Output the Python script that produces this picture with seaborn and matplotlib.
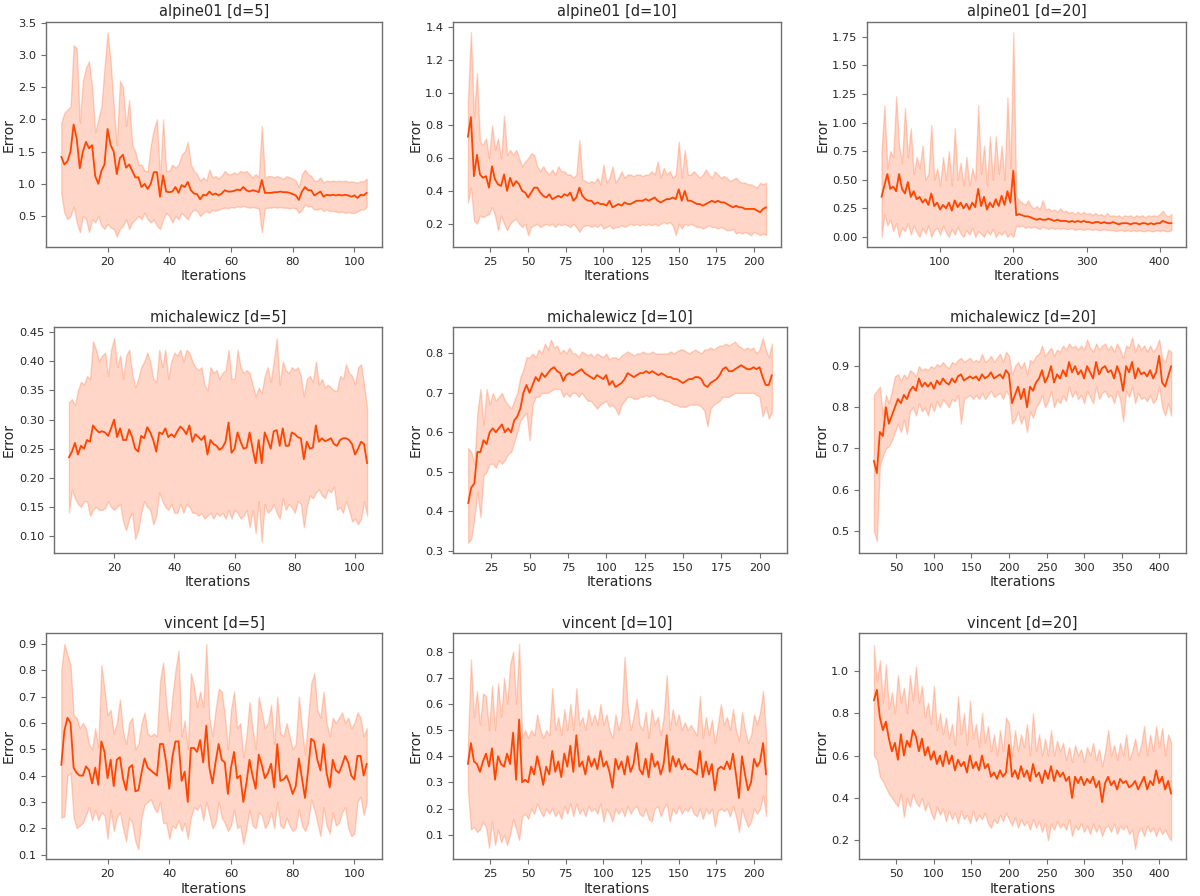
import numpy as np
import pandas as pd
import matplotlib
matplotlib.use("Agg")
import matplotlib.pyplot as plt
from matplotlib.ticker import MultipleLocator
import seaborn as sns

# ---------------- data ----------------
it5 = list(range(5, 105))        # d=5  : iterations 5..104
it10 = list(range(10, 209, 2))   # d=10 : iterations 10..208 (every 2nd)
it20 = list(range(20, 417, 4))   # d=20 : iterations 20..416 (every 4th)

alp5_mean = [1.42,1.30,1.35,1.50,1.92,1.70,1.24,1.50,1.65,1.55,
             1.60,1.12,1.00,1.20,1.30,1.85,1.60,1.50,1.15,1.40,
             1.45,1.25,1.30,1.20,1.10,1.10,0.95,1.00,0.92,1.00,
             1.18,1.18,0.80,1.13,0.88,0.87,0.88,0.95,0.86,0.98,
             0.95,1.03,0.90,0.85,0.84,0.76,0.83,0.82,0.88,0.83,
             0.85,0.82,0.85,0.90,0.88,0.88,0.89,0.91,0.90,0.95,
             0.90,0.88,0.90,0.89,0.87,1.06,0.86,0.86,0.86,0.87,
             0.87,0.88,0.87,0.87,0.86,0.84,0.82,0.75,0.88,0.95,
             0.90,0.90,0.82,0.85,0.88,0.80,0.83,0.82,0.83,0.82,
             0.83,0.82,0.83,0.82,0.80,0.82,0.78,0.83,0.82,0.86]
alp5_hi = [1.95,2.10,2.15,2.20,3.15,3.10,1.95,2.60,2.80,2.90,
           2.50,1.80,2.00,2.20,2.80,3.35,2.90,2.20,1.60,2.60,
           2.50,1.90,2.30,1.60,1.50,1.30,1.30,1.20,1.20,1.60,
           1.85,2.00,1.10,2.00,1.20,1.20,1.30,1.25,1.30,1.45,
           1.50,1.65,1.30,1.20,1.15,1.05,1.10,1.05,1.22,1.10,
           1.12,1.08,1.13,1.20,1.15,1.15,1.18,1.15,1.20,1.18,
           1.20,1.15,1.10,1.15,1.10,1.90,1.10,1.12,1.12,1.10,
           1.12,1.10,1.08,1.12,1.10,1.08,1.05,0.95,1.15,1.22,
           1.15,1.12,1.05,1.05,1.10,1.02,1.05,1.04,1.05,1.04,
           1.05,1.04,1.05,1.03,1.04,1.03,1.02,1.04,1.04,1.08]
alp5_lo = [0.85,0.55,0.45,0.50,0.65,0.40,0.25,0.50,0.45,0.25,
           0.45,0.40,0.50,0.35,0.30,0.38,0.32,0.30,0.18,0.30,
           0.35,0.45,0.30,0.40,0.45,0.50,0.45,0.55,0.45,0.40,
           0.45,0.35,0.30,0.45,0.55,0.50,0.40,0.50,0.45,0.55,
           0.50,0.45,0.55,0.60,0.58,0.50,0.55,0.58,0.55,0.60,
           0.58,0.60,0.62,0.63,0.62,0.64,0.63,0.65,0.64,0.66,
           0.64,0.63,0.64,0.63,0.62,0.25,0.62,0.63,0.63,0.64,
           0.63,0.64,0.63,0.63,0.62,0.63,0.62,0.55,0.60,0.68,
           0.65,0.65,0.60,0.60,0.62,0.58,0.60,0.58,0.58,0.57,
           0.56,0.57,0.55,0.56,0.55,0.55,0.57,0.60,0.60,0.65]

alp10_mean = [0.73,0.85,0.49,0.62,0.50,0.48,0.49,0.42,0.55,0.47,
              0.44,0.43,0.50,0.40,0.48,0.43,0.46,0.44,0.40,0.39,
              0.36,0.39,0.42,0.42,0.39,0.37,0.36,0.38,0.35,0.36,
              0.37,0.36,0.38,0.37,0.39,0.34,0.36,0.42,0.37,0.35,
              0.34,0.34,0.32,0.33,0.32,0.32,0.31,0.34,0.30,0.31,
              0.32,0.31,0.33,0.32,0.32,0.33,0.34,0.34,0.34,0.35,
              0.34,0.35,0.36,0.34,0.33,0.34,0.35,0.35,0.36,0.35,
              0.41,0.34,0.40,0.34,0.34,0.33,0.32,0.32,0.31,0.32,
              0.33,0.34,0.33,0.34,0.33,0.33,0.32,0.31,0.30,0.31,
              0.30,0.30,0.29,0.29,0.29,0.29,0.28,0.27,0.29,0.30]
alp10_hi = [0.95,1.37,0.85,1.12,0.70,0.68,0.72,0.60,0.80,0.65,
            0.72,0.60,0.86,0.62,0.65,0.62,0.65,0.60,0.55,0.58,
            0.60,0.63,0.62,0.55,0.52,0.55,0.52,0.50,0.53,0.50,
            0.55,0.52,0.52,0.50,0.50,0.48,0.50,0.71,0.47,0.46,
            0.45,0.46,0.45,0.48,0.44,0.56,0.45,0.48,0.55,0.45,
            0.48,0.52,0.48,0.50,0.50,0.49,0.50,0.50,0.49,0.50,
            0.50,0.52,0.50,0.58,0.48,0.54,0.50,0.52,0.48,0.50,
            0.70,0.48,0.65,0.50,0.50,0.52,0.50,0.48,0.50,0.53,
            0.50,0.48,0.52,0.50,0.48,0.49,0.48,0.46,0.47,0.48,
            0.46,0.45,0.45,0.44,0.44,0.43,0.42,0.45,0.44,0.45]
alp10_lo = [0.33,0.42,0.22,0.20,0.25,0.24,0.25,0.26,0.30,0.25,
            0.16,0.25,0.20,0.16,0.20,0.22,0.23,0.20,0.18,0.20,
            0.13,0.18,0.19,0.20,0.18,0.19,0.20,0.19,0.20,0.18,
            0.20,0.19,0.20,0.19,0.18,0.20,0.18,0.15,0.18,0.19,
            0.19,0.18,0.19,0.18,0.20,0.17,0.18,0.19,0.17,0.18,
            0.18,0.19,0.18,0.19,0.20,0.19,0.20,0.19,0.20,0.19,
            0.20,0.19,0.20,0.19,0.20,0.21,0.20,0.21,0.19,0.13,
            0.20,0.17,0.20,0.19,0.20,0.19,0.18,0.18,0.17,0.18,
            0.19,0.18,0.18,0.17,0.18,0.17,0.16,0.16,0.17,0.14,
            0.15,0.14,0.15,0.14,0.13,0.15,0.14,0.13,0.14,0.13]

alp20_mean = [0.35,0.45,0.55,0.42,0.44,0.40,0.55,0.42,0.38,0.48,
              0.35,0.40,0.33,0.35,0.30,0.33,0.28,0.38,0.27,0.30,
              0.24,0.28,0.25,0.30,0.23,0.32,0.26,0.30,0.25,0.29,
              0.24,0.30,0.26,0.42,0.27,0.35,0.24,0.30,0.26,0.33,
              0.27,0.36,0.28,0.40,0.30,0.58,0.19,0.20,0.19,0.18,
              0.18,0.17,0.16,0.15,0.16,0.15,0.15,0.16,0.15,0.14,
              0.15,0.14,0.14,0.14,0.13,0.14,0.13,0.14,0.13,0.14,
              0.13,0.13,0.12,0.13,0.13,0.12,0.13,0.12,0.12,0.13,
              0.12,0.11,0.12,0.12,0.12,0.11,0.12,0.12,0.11,0.12,
              0.12,0.11,0.12,0.11,0.12,0.12,0.14,0.13,0.12,0.12]
alp20_hi = [0.75,1.15,0.60,0.75,0.70,1.23,0.80,0.65,1.13,0.70,
            0.95,0.55,0.70,0.60,0.80,0.50,0.55,0.98,0.50,0.60,
            0.45,0.70,0.50,0.75,0.45,0.95,0.50,0.65,0.45,0.70,
            0.45,0.60,0.50,1.15,0.55,0.80,0.45,0.88,0.50,0.88,
            0.55,0.80,0.50,1.22,0.60,1.79,0.35,0.32,0.30,0.28,
            0.32,0.27,0.25,0.27,0.24,0.32,0.24,0.25,0.23,0.24,
            0.22,0.25,0.22,0.23,0.21,0.22,0.20,0.22,0.20,0.22,
            0.20,0.21,0.19,0.21,0.19,0.20,0.18,0.21,0.18,0.19,
            0.18,0.19,0.17,0.19,0.18,0.19,0.17,0.19,0.18,0.19,
            0.17,0.19,0.18,0.19,0.18,0.20,0.23,0.19,0.18,0.20]
alp20_lo = [0.00,0.20,0.10,0.15,0.05,0.12,0.00,0.08,0.05,0.12,
            0.02,0.10,0.04,0.00,0.08,0.03,0.10,0.00,0.06,0.08,
            0.02,0.10,0.04,0.00,0.07,0.02,0.09,0.03,0.00,0.06,
            0.02,0.08,0.00,0.05,0.03,0.00,0.06,0.02,0.07,0.00,
            0.04,0.02,0.05,0.00,0.03,0.00,0.10,0.09,0.10,0.08,
            0.09,0.08,0.09,0.08,0.07,0.09,0.08,0.07,0.08,0.07,
            0.08,0.07,0.08,0.07,0.07,0.08,0.06,0.07,0.07,0.06,
            0.07,0.07,0.06,0.07,0.06,0.06,0.07,0.06,0.06,0.06,
            0.05,0.06,0.06,0.05,0.06,0.05,0.06,0.05,0.06,0.05,
            0.05,0.06,0.05,0.05,0.06,0.05,0.06,0.05,0.05,0.06]

mic5_mean = [0.235,0.245,0.26,0.24,0.255,0.25,0.265,0.262,0.29,0.283,
             0.278,0.28,0.278,0.272,0.285,0.30,0.27,0.285,0.265,0.265,
             0.283,0.27,0.25,0.245,0.272,0.268,0.287,0.278,0.265,0.245,
             0.278,0.275,0.285,0.27,0.275,0.27,0.28,0.288,0.283,0.275,
             0.29,0.262,0.275,0.27,0.265,0.272,0.24,0.265,0.258,0.255,
             0.248,0.252,0.262,0.295,0.243,0.25,0.278,0.262,0.25,0.252,
             0.278,0.25,0.225,0.265,0.225,0.278,0.265,0.25,0.28,0.282,
             0.255,0.285,0.255,0.255,0.278,0.275,0.27,0.268,0.232,0.262,
             0.25,0.252,0.29,0.262,0.268,0.263,0.265,0.268,0.258,0.255,
             0.265,0.268,0.268,0.265,0.258,0.24,0.25,0.262,0.258,0.225]
mic5_hi = [0.33,0.335,0.325,0.35,0.365,0.36,0.375,0.37,0.435,0.42,
           0.40,0.41,0.415,0.375,0.42,0.44,0.39,0.41,0.37,0.41,
           0.42,0.38,0.355,0.37,0.39,0.40,0.415,0.40,0.37,0.365,
           0.42,0.39,0.42,0.37,0.40,0.415,0.41,0.42,0.40,0.42,
           0.415,0.40,0.39,0.385,0.39,0.36,0.35,0.39,0.38,0.385,
           0.37,0.38,0.385,0.42,0.37,0.37,0.42,0.39,0.38,0.385,
           0.38,0.36,0.34,0.355,0.345,0.375,0.39,0.365,0.40,0.44,
           0.36,0.40,0.385,0.38,0.39,0.385,0.39,0.375,0.34,0.37,
           0.375,0.365,0.40,0.36,0.37,0.355,0.36,0.355,0.35,0.35,
           0.375,0.37,0.395,0.38,0.375,0.36,0.39,0.395,0.36,0.32]
mic5_lo = [0.14,0.18,0.165,0.155,0.15,0.16,0.16,0.135,0.145,0.15,
           0.145,0.145,0.148,0.16,0.15,0.145,0.15,0.155,0.125,0.11,
           0.13,0.14,0.095,0.11,0.14,0.16,0.15,0.145,0.12,0.135,
           0.175,0.16,0.15,0.145,0.155,0.14,0.14,0.155,0.14,0.155,
           0.15,0.14,0.14,0.135,0.14,0.13,0.135,0.14,0.13,0.14,
           0.135,0.14,0.13,0.145,0.13,0.145,0.14,0.13,0.135,0.145,
           0.115,0.145,0.105,0.16,0.09,0.155,0.14,0.145,0.155,0.14,
           0.13,0.165,0.145,0.155,0.15,0.14,0.16,0.155,0.115,0.15,
           0.17,0.165,0.175,0.18,0.17,0.165,0.18,0.175,0.185,0.145,
           0.15,0.14,0.16,0.145,0.125,0.13,0.12,0.13,0.16,0.135]

mic10_mean = [0.42,0.46,0.47,0.55,0.55,0.58,0.57,0.60,0.61,0.60,
              0.61,0.62,0.60,0.61,0.60,0.63,0.64,0.66,0.70,0.72,
              0.70,0.72,0.74,0.73,0.75,0.74,0.75,0.76,0.765,0.755,
              0.75,0.73,0.745,0.75,0.745,0.75,0.755,0.76,0.75,0.745,
              0.74,0.735,0.745,0.74,0.735,0.745,0.72,0.73,0.715,0.72,
              0.725,0.735,0.75,0.745,0.74,0.745,0.75,0.75,0.755,0.75,
              0.755,0.75,0.745,0.75,0.745,0.74,0.74,0.735,0.735,0.73,
              0.725,0.73,0.735,0.735,0.74,0.74,0.735,0.72,0.715,0.725,
              0.73,0.735,0.745,0.76,0.765,0.755,0.755,0.76,0.765,0.77,
              0.765,0.76,0.76,0.765,0.76,0.765,0.74,0.72,0.72,0.745]
mic10_hi = [0.56,0.55,0.52,0.65,0.71,0.62,0.71,0.67,0.70,0.68,
            0.69,0.70,0.68,0.67,0.66,0.68,0.70,0.74,0.76,0.79,
            0.79,0.80,0.79,0.81,0.80,0.825,0.81,0.835,0.815,0.82,
            0.80,0.81,0.80,0.815,0.80,0.80,0.79,0.805,0.80,0.795,
            0.80,0.79,0.80,0.795,0.79,0.80,0.785,0.79,0.79,0.785,
            0.795,0.80,0.805,0.80,0.795,0.80,0.80,0.805,0.80,0.80,
            0.805,0.80,0.80,0.80,0.80,0.80,0.805,0.80,0.805,0.81,
            0.81,0.805,0.80,0.805,0.81,0.805,0.80,0.81,0.81,0.815,
            0.81,0.815,0.82,0.82,0.825,0.82,0.825,0.83,0.82,0.815,
            0.81,0.815,0.81,0.815,0.80,0.81,0.84,0.81,0.79,0.825]
mic10_lo = [0.32,0.33,0.38,0.45,0.385,0.49,0.50,0.52,0.52,0.51,
            0.53,0.52,0.53,0.545,0.55,0.575,0.60,0.63,0.64,0.65,
            0.58,0.67,0.69,0.69,0.70,0.70,0.70,0.705,0.71,0.71,
            0.71,0.69,0.70,0.69,0.70,0.70,0.69,0.70,0.69,0.68,
            0.68,0.67,0.66,0.67,0.675,0.68,0.665,0.67,0.66,0.645,
            0.67,0.68,0.69,0.69,0.685,0.685,0.69,0.69,0.695,0.69,
            0.695,0.69,0.685,0.685,0.68,0.68,0.675,0.67,0.67,0.665,
            0.665,0.665,0.67,0.67,0.67,0.67,0.665,0.655,0.615,0.66,
            0.67,0.675,0.68,0.69,0.69,0.69,0.695,0.70,0.70,0.70,
            0.70,0.70,0.70,0.70,0.695,0.69,0.64,0.665,0.635,0.65]

mic20_mean = [0.67,0.64,0.74,0.73,0.80,0.76,0.78,0.80,0.82,0.81,
              0.83,0.82,0.84,0.85,0.84,0.87,0.85,0.86,0.85,0.86,
              0.845,0.865,0.855,0.87,0.86,0.855,0.87,0.86,0.875,0.88,
              0.865,0.87,0.875,0.87,0.875,0.865,0.88,0.87,0.875,0.885,
              0.87,0.875,0.88,0.87,0.89,0.88,0.81,0.83,0.85,0.82,
              0.845,0.80,0.85,0.84,0.86,0.87,0.89,0.86,0.875,0.90,
              0.86,0.88,0.87,0.89,0.875,0.91,0.885,0.90,0.88,0.89,
              0.87,0.90,0.885,0.87,0.91,0.88,0.895,0.90,0.885,0.89,
              0.87,0.90,0.88,0.84,0.90,0.885,0.91,0.87,0.895,0.88,
              0.885,0.875,0.89,0.87,0.885,0.925,0.86,0.85,0.875,0.90]
mic20_hi = [0.83,0.84,0.85,0.78,0.83,0.81,0.84,0.875,0.88,0.865,
            0.88,0.87,0.89,0.885,0.875,0.90,0.89,0.895,0.89,0.90,
            0.895,0.905,0.90,0.91,0.90,0.895,0.91,0.905,0.915,0.92,
            0.91,0.915,0.92,0.91,0.915,0.91,0.93,0.91,0.915,0.925,
            0.91,0.92,0.93,0.91,0.935,0.925,0.88,0.90,0.91,0.895,
            0.91,0.88,0.915,0.91,0.925,0.93,0.95,0.925,0.935,0.945,
            0.925,0.94,0.935,0.95,0.94,0.955,0.945,0.95,0.94,0.95,
            0.94,0.965,0.945,0.935,0.955,0.94,0.95,0.955,0.94,0.95,
            0.935,0.955,0.94,0.92,0.95,0.945,0.97,0.935,0.955,0.94,
            0.95,0.935,0.95,0.935,0.945,0.965,0.92,0.91,0.94,0.935]
mic20_lo = [0.50,0.475,0.66,0.68,0.70,0.705,0.72,0.74,0.76,0.74,
            0.77,0.735,0.79,0.80,0.78,0.81,0.79,0.80,0.78,0.81,
            0.79,0.815,0.80,0.82,0.81,0.80,0.82,0.815,0.83,0.76,
            0.82,0.825,0.83,0.82,0.83,0.82,0.835,0.82,0.83,0.84,
            0.825,0.83,0.835,0.82,0.84,0.83,0.76,0.77,0.79,0.76,
            0.78,0.74,0.79,0.775,0.80,0.81,0.83,0.80,0.815,0.84,
            0.80,0.82,0.81,0.83,0.815,0.85,0.825,0.84,0.82,0.83,
            0.81,0.84,0.825,0.81,0.85,0.82,0.835,0.84,0.825,0.83,
            0.81,0.84,0.82,0.765,0.84,0.825,0.85,0.81,0.835,0.82,
            0.825,0.815,0.83,0.81,0.82,0.85,0.80,0.78,0.81,0.78]

vin5_mean = [0.44,0.57,0.62,0.60,0.43,0.41,0.40,0.40,0.435,0.42,
             0.37,0.43,0.365,0.53,0.49,0.39,0.46,0.36,0.46,0.47,
             0.39,0.345,0.43,0.44,0.34,0.345,0.41,0.465,0.43,0.42,
             0.41,0.40,0.52,0.52,0.45,0.35,0.47,0.53,0.53,0.38,
             0.415,0.30,0.505,0.505,0.49,0.535,0.45,0.59,0.43,0.37,
             0.45,0.52,0.46,0.45,0.33,0.43,0.49,0.39,0.40,0.30,
             0.37,0.46,0.40,0.35,0.48,0.44,0.39,0.41,0.445,0.355,
             0.52,0.38,0.385,0.40,0.37,0.33,0.36,0.465,0.39,0.315,
             0.42,0.54,0.53,0.46,0.42,0.52,0.41,0.355,0.46,0.42,
             0.41,0.44,0.475,0.45,0.40,0.385,0.475,0.475,0.40,0.445]
vin5_hi = [0.80,0.90,0.86,0.82,0.63,0.62,0.58,0.60,0.58,0.52,
           0.50,0.58,0.51,0.82,0.73,0.63,0.65,0.56,0.60,0.69,
           0.57,0.52,0.60,0.62,0.50,0.52,0.60,0.64,0.56,0.55,
           0.56,0.55,0.76,0.83,0.68,0.57,0.70,0.80,0.875,0.55,
           0.61,0.50,0.79,0.74,0.66,0.72,0.66,0.90,0.62,0.55,
           0.65,0.73,0.72,0.63,0.50,0.65,0.72,0.58,0.60,0.47,
           0.55,0.68,0.58,0.50,0.70,0.64,0.58,0.60,0.67,0.52,
           0.70,0.56,0.55,0.60,0.55,0.50,0.52,0.70,0.58,0.48,
           0.62,0.75,0.79,0.65,0.62,0.72,0.60,0.55,0.62,0.60,
           0.62,0.64,0.60,0.62,0.58,0.60,0.64,0.62,0.55,0.58]
vin5_lo = [0.24,0.245,0.40,0.41,0.24,0.20,0.21,0.22,0.25,0.28,
           0.23,0.27,0.23,0.26,0.25,0.16,0.27,0.19,0.24,0.26,
           0.20,0.15,0.24,0.22,0.15,0.12,0.24,0.29,0.30,0.31,
           0.28,0.26,0.30,0.22,0.22,0.16,0.21,0.20,0.23,0.19,
           0.22,0.16,0.24,0.28,0.27,0.29,0.23,0.30,0.25,0.20,
           0.22,0.30,0.24,0.22,0.19,0.21,0.27,0.20,0.21,0.14,
           0.20,0.27,0.21,0.20,0.26,0.25,0.20,0.22,0.26,0.20,
           0.30,0.21,0.20,0.24,0.21,0.19,0.20,0.27,0.21,0.19,
           0.22,0.31,0.27,0.22,0.17,0.28,0.21,0.18,0.26,0.21,
           0.22,0.26,0.28,0.20,0.17,0.18,0.30,0.32,0.25,0.30]

vin10_mean = [0.37,0.45,0.38,0.37,0.34,0.38,0.41,0.36,0.43,0.31,
              0.40,0.37,0.36,0.41,0.37,0.49,0.31,0.54,0.30,0.31,
              0.30,0.36,0.33,0.40,0.35,0.29,0.36,0.33,0.42,0.34,
              0.38,0.32,0.41,0.36,0.44,0.34,0.48,0.36,0.38,0.33,
              0.40,0.36,0.39,0.35,0.42,0.36,0.38,0.34,0.28,0.39,
              0.35,0.38,0.33,0.40,0.34,0.37,0.45,0.35,0.33,0.39,
              0.32,0.41,0.36,0.38,0.33,0.37,0.48,0.34,0.40,0.36,
              0.39,0.35,0.37,0.35,0.35,0.34,0.33,0.42,0.32,0.38,
              0.33,0.37,0.27,0.35,0.36,0.35,0.38,0.35,0.41,0.33,
              0.24,0.40,0.33,0.27,0.30,0.39,0.36,0.38,0.45,0.33]
vin10_hi = [0.45,0.77,0.55,0.65,0.52,0.64,0.63,0.50,0.67,0.50,
            0.68,0.55,0.70,0.60,0.75,0.80,0.60,0.83,0.47,0.50,
            0.47,0.50,0.48,0.56,0.50,0.47,0.50,0.48,0.66,0.50,
            0.55,0.48,0.58,0.50,0.60,0.50,0.66,0.52,0.55,0.50,
            0.58,0.52,0.56,0.52,0.60,0.52,0.56,0.50,0.47,0.56,
            0.50,0.55,0.78,0.60,0.50,0.55,0.62,0.52,0.50,0.57,
            0.47,0.58,0.52,0.55,0.48,0.55,0.71,0.50,0.58,0.52,
            0.56,0.50,0.53,0.50,0.52,0.50,0.48,0.63,0.47,0.55,
            0.48,0.54,0.45,0.52,0.60,0.52,0.55,0.50,0.58,0.50,
            0.46,0.57,0.50,0.45,0.48,0.56,0.52,0.57,0.65,0.48]
vin10_lo = [0.27,0.12,0.13,0.11,0.12,0.15,0.13,0.05,0.15,0.06,
            0.12,0.07,0.10,0.06,0.10,0.16,0.12,0.08,0.17,0.18,
            0.16,0.20,0.18,0.22,0.19,0.17,0.20,0.18,0.20,0.17,
            0.19,0.16,0.21,0.18,0.22,0.17,0.22,0.18,0.20,0.17,
            0.21,0.19,0.20,0.18,0.22,0.15,0.20,0.18,0.15,0.20,
            0.18,0.20,0.17,0.21,0.18,0.20,0.21,0.18,0.17,0.20,
            0.16,0.15,0.20,0.21,0.17,0.20,0.22,0.15,0.20,0.18,
            0.21,0.18,0.20,0.19,0.21,0.18,0.17,0.20,0.16,0.20,
            0.18,0.20,0.13,0.19,0.20,0.19,0.20,0.17,0.21,0.17,
            0.11,0.20,0.16,0.13,0.15,0.20,0.18,0.20,0.25,0.17]

vin20_mean = [0.86,0.91,0.78,0.72,0.76,0.68,0.62,0.66,0.58,0.70,
              0.60,0.67,0.64,0.72,0.69,0.62,0.68,0.60,0.64,0.58,
              0.62,0.56,0.60,0.55,0.62,0.56,0.60,0.53,0.58,0.55,
              0.57,0.52,0.60,0.54,0.57,0.53,0.60,0.54,0.56,0.50,
              0.52,0.49,0.53,0.50,0.52,0.65,0.50,0.53,0.49,0.55,
              0.50,0.53,0.48,0.56,0.50,0.52,0.47,0.53,0.49,0.55,
              0.48,0.53,0.50,0.52,0.48,0.50,0.40,0.50,0.47,0.50,
              0.46,0.49,0.47,0.50,0.45,0.48,0.38,0.47,0.50,0.46,
              0.48,0.44,0.49,0.47,0.48,0.45,0.46,0.48,0.44,0.47,
              0.50,0.44,0.48,0.46,0.53,0.47,0.50,0.44,0.48,0.42]
vin20_hi = [1.12,0.95,1.05,0.85,1.03,0.82,0.90,0.80,0.98,0.85,
            0.92,0.80,0.98,0.86,1.02,0.85,0.93,0.78,0.85,0.75,
            0.93,0.72,0.80,0.70,0.78,0.68,0.75,0.65,0.88,0.70,
            0.80,0.65,0.86,0.68,0.75,0.64,0.80,0.66,0.74,0.62,
            0.70,0.60,0.72,0.62,0.78,0.75,0.60,0.72,0.62,0.70,
            0.64,0.75,0.60,0.80,0.62,0.70,0.60,0.68,0.60,0.72,
            0.60,0.67,0.62,0.66,0.58,0.64,0.57,0.65,0.60,0.63,
            0.57,0.64,0.60,0.66,0.58,0.63,0.55,0.62,0.72,0.60,
            0.65,0.58,0.66,0.60,0.70,0.58,0.62,0.68,0.60,0.65,
            0.74,0.60,0.70,0.62,0.74,0.64,0.73,0.60,0.70,0.66]
vin20_lo = [0.60,0.58,0.50,0.48,0.45,0.42,0.40,0.38,0.36,0.42,
            0.31,0.40,0.36,0.42,0.38,0.36,0.40,0.34,0.38,0.33,
            0.30,0.36,0.32,0.35,0.29,0.34,0.30,0.33,0.28,0.34,
            0.30,0.32,0.28,0.34,0.29,0.32,0.30,0.33,0.28,0.26,
            0.30,0.28,0.32,0.29,0.33,0.30,0.27,0.31,0.26,0.30,
            0.27,0.29,0.25,0.30,0.26,0.29,0.24,0.28,0.20,0.28,
            0.25,0.29,0.26,0.28,0.25,0.30,0.22,0.27,0.25,0.28,
            0.24,0.27,0.23,0.28,0.24,0.27,0.22,0.26,0.27,0.24,
            0.28,0.23,0.27,0.25,0.27,0.23,0.25,0.16,0.24,0.26,
            0.22,0.27,0.24,0.26,0.22,0.26,0.23,0.25,0.22,0.20]

titles = ["alpine01 [d=5]", "alpine01 [d=10]", "alpine01 [d=20]",
          "michalewicz [d=5]", "michalewicz [d=10]", "michalewicz [d=20]",
          "vincent [d=5]", "vincent [d=10]", "vincent [d=20]"]

# ---------------- style ----------------
sns.set_theme(style="ticks", rc={
    "axes.edgecolor": "#6e6e6e",
    "axes.linewidth": 1.0,
    "xtick.color": "#6e6e6e",
    "ytick.color": "#6e6e6e",
    "xtick.labelcolor": "#262626",
    "ytick.labelcolor": "#262626",
    "xtick.labelsize": 8.2,
    "ytick.labelsize": 8.2,
    "axes.labelsize": 10,
    "axes.titlesize": 10.5,
    "axes.labelcolor": "#262626",
    "text.color": "#262626",
    "xtick.major.size": 3.5,
    "ytick.major.size": 3.5,
    "xtick.major.width": 0.8,
    "ytick.major.width": 0.8,
    "axes.labelpad": 2.0,
})
plt.rcParams["font.family"] = ["DejaVu Sans"]

panels = [
    (it5, alp5_mean, alp5_lo, alp5_hi),
    (it10, alp10_mean, alp10_lo, alp10_hi),
    (it20, alp20_mean, alp20_lo, alp20_hi),
    (it5, mic5_mean, mic5_lo, mic5_hi),
    (it10, mic10_mean, mic10_lo, mic10_hi),
    (it20, mic20_mean, mic20_lo, mic20_hi),
    (it5, vin5_mean, vin5_lo, vin5_hi),
    (it10, vin10_mean, vin10_lo, vin10_hi),
    (it20, vin20_mean, vin20_lo, vin20_hi),
]

# axes placement (pixels in a 1200x896 canvas: left, right, top, bottom)
boxes = [
    (46, 382, 22, 247), (453, 781, 22, 247), (867, 1186, 22, 247),
    (54, 382, 327, 553), (453, 787, 327, 553), (859, 1186, 327, 553),
    (46, 382, 633, 859), (453, 781, 633, 859), (859, 1186, 633, 859),
]
ylims = [(0.02, 3.51), (0.058, 1.43), (-0.088, 1.88),
         (0.071, 0.459), (0.294, 0.867), (0.446, 0.995),
         (0.083, 0.942), (0.007, 0.871), (0.112, 1.178)]
ysteps = [0.5, 0.2, 0.25, 0.05, 0.1, 0.1, 0.1, 0.1, 0.2]
xsteps = [20, 25, 100, 20, 25, 50, 20, 25, 50]

W, H = 1200, 896
fig = plt.figure(figsize=(12, 8.96), dpi=100)
for k, (xs, mean, lo, hi) in enumerate(panels):
    l, r, t, b = boxes[k]
    ax = fig.add_axes([l / W, 1 - b / H, (r - l) / W, (b - t) / H])
    df = pd.DataFrame({
        "Iterations": list(xs) * 3,
        "Error": list(lo) + list(mean) + list(hi),
    })
    sns.lineplot(data=df, x="Iterations", y="Error", estimator="median",
                 errorbar=("pi", 100), color="orangered", linewidth=1.3,
                 err_kws={"alpha": 0.22, "linewidth": 1.0}, ax=ax)
    ax.set_title(titles[k], pad=4)
    ax.set_ylim(*ylims[k])
    ax.yaxis.set_major_locator(MultipleLocator(ysteps[k]))
    ax.xaxis.set_major_locator(MultipleLocator(xsteps[k]))
    xmin, xmax = min(xs), max(xs)
    span = xmax - xmin
    ax.set_xlim(xmin - 0.05 * span, xmax + 0.05 * span)
    for s in ax.spines.values():
        s.set_visible(True)

fig.savefig("out.png", dpi=100)
